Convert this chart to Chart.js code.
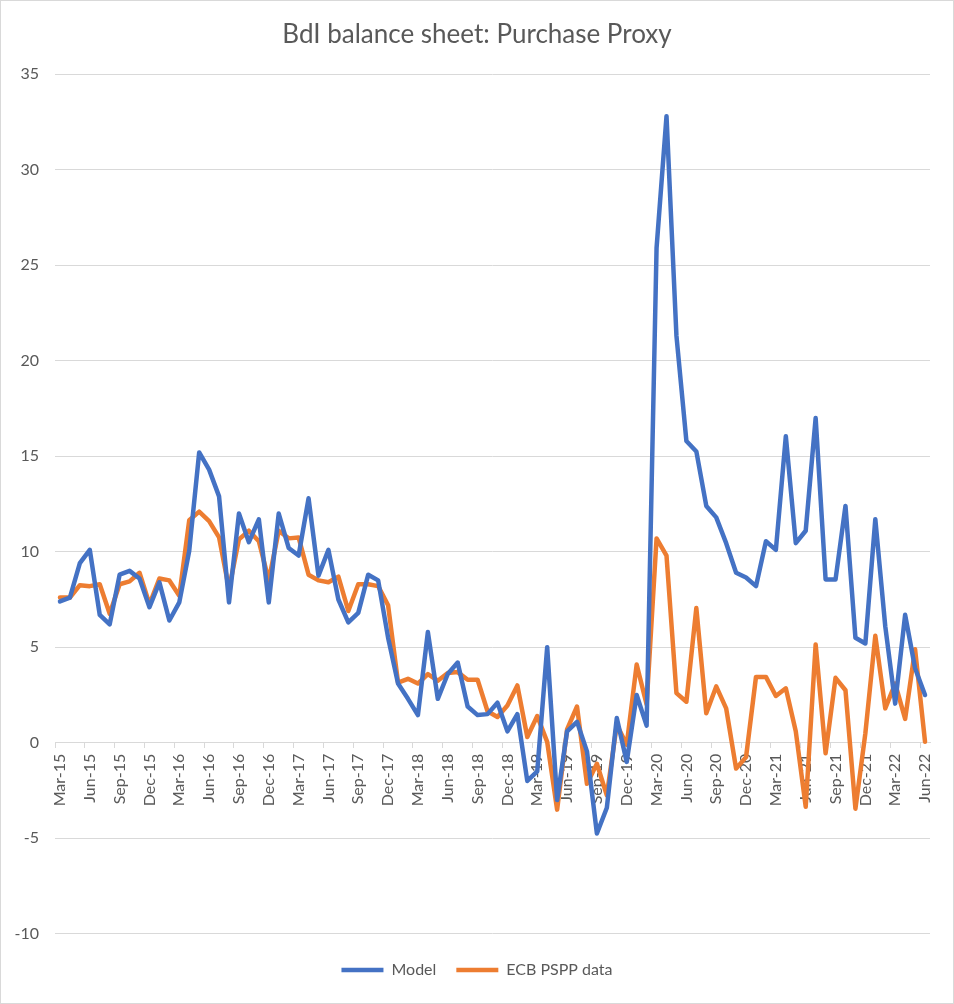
<!DOCTYPE html>
<html>
<head>
<meta charset="utf-8">
<title>BdI balance sheet: Purchase Proxy</title>
<script src="https://cdn.jsdelivr.net/npm/chart.js@4.4.1/dist/chart.umd.min.js"></script>
<style>
  html, body { margin: 0; padding: 0; background: #fff; }
  #wrap { width: 952px; height: 1002px; border: 1px solid #D9D9D9; }
</style>
</head>
<body>
<div id="wrap"><canvas id="proxyChart" width="952" height="1002"></canvas></div>
<script>
/* BdI balance sheet - purchase proxy vs ECB PSPP data (monthly, Mar-15 .. Jun-22) */

const monthNames = ["Jan", "Feb", "Mar", "Apr", "May", "Jun", "Jul", "Aug", "Sep", "Oct", "Nov", "Dec"];

const modelData = [
  7.4, 7.6, 9.4, 10.1, 6.7, 6.2, 8.8, 9.0, 8.6, 7.1,            // 2015
  8.4, 6.4, 7.35, 10.05, 15.2, 14.3, 12.9, 7.35, 12.0, 10.5, 11.7, 7.35,   // 2016
  12.0, 10.2, 9.8, 12.8, 8.75, 10.1, 7.5, 6.3, 6.8, 8.8, 8.5, 5.5,         // 2017
  3.1, 2.3, 1.45, 5.8, 2.3, 3.6, 4.2, 1.9, 1.45, 1.5, 2.1, 0.6,            // 2018
  1.5, -2.0, -1.5, 5.0, -3.0, 0.6, 1.1, -0.45, -4.75, -3.4, 1.3, -1.0,     // 2019
  2.5, 0.9, 25.9, 32.8, 21.3, 15.8, 15.25, 12.4, 11.8, 10.45, 8.9, 8.65,  // 2020
  8.2, 10.55, 10.1, 16.05, 10.45, 11.1, 17.0, 8.55, 8.55, 12.4, 5.5, 5.2, // 2021
  11.7, 6.1, 2.05, 6.7, 3.9, 2.5                                           // 2022
];

const psppData = [
  7.6, 7.6, 8.25, 8.2, 8.3, 6.75, 8.3, 8.45, 8.9, 7.25,
  8.6, 8.5, 7.7, 11.65, 12.1, 11.6, 10.75, 8.05, 10.65, 11.1, 10.55, 8.5,
  11.1, 10.7, 10.75, 8.8, 8.5, 8.4, 8.7, 6.9, 8.3, 8.3, 8.2, 7.2,
  3.15, 3.35, 3.1, 3.6, 3.25, 3.65, 3.7, 3.3, 3.3, 1.65, 1.35, 1.95,
  3.0, 0.3, 1.4, 0.05, -3.5, 0.7, 1.9, -2.15, -1.1, -2.75, 0.95, -0.1,
  4.1, 2.0, 10.7, 9.8, 2.6, 2.15, 7.05, 1.55, 2.95, 1.8, -1.35, -0.75,
  3.45, 3.45, 2.45, 2.85, 0.6, -3.35, 5.15, -0.55, 3.4, 2.75, -3.45, 0.5,
  5.6, 1.8, 3.1, 1.25, 4.9, 0.05
];

const yTickValues = [-10, -5, 0, 5, 10, 15, 20, 25, 30, 35];

// category labels "Mar-15" ... "Jun-22"
const months = [];
for (let k = 0; k < modelData.length; k++) {
    const m = (2 + k) % 12;
    const yr = 15 + Math.floor((2 + k) / 12);
    months.push(monthNames[m] + "-" + yr);
}

const textColor = "#595959";
const gridColor = "#D9D9D9";

Chart.defaults.font.family = "Lato, 'Open Sans', sans-serif";
Chart.defaults.color = textColor;

new Chart(document.getElementById("proxyChart"), {
    type: "line",
    data: {
        labels: months,
        datasets: [
            {
                label: "Model",
                data: modelData,
                borderColor: "#4472C4",
                backgroundColor: "#4472C4",
                borderWidth: 4.5,
                borderCapStyle: "round",
                borderJoinStyle: "round",
                pointRadius: 0,
                tension: 0
            },
            {
                label: "ECB PSPP data",
                data: psppData,
                borderColor: "#ED7D31",
                backgroundColor: "#ED7D31",
                borderWidth: 4.5,
                borderCapStyle: "round",
                borderJoinStyle: "round",
                pointRadius: 0,
                tension: 0
            }
        ]
    },
    options: {
        responsive: false,
        animation: false,
        layout: {
            padding: { top: 0, left: 0, right: 0, bottom: 15 }
        },
        scales: {
            x: {
                type: "category",
                position: { y: 0 },
                offset: true,
                grid: {
                    offset: true,
                    drawOnChartArea: false,
                    drawTicks: true,
                    tickLength: 5,
                    color: (c) => (c.index % 3 === 0 ? gridColor : "rgba(0,0,0,0)"),
                    tickColor: (c) => (c.index % 3 === 0 ? gridColor : "rgba(0,0,0,0)")
                },
                border: { display: true, color: gridColor, width: 1 },
                ticks: {
                    autoSkip: false,
                    maxRotation: 90,
                    minRotation: 90,
                    padding: 6,
                    font: { size: 16 },
                    color: textColor,
                    callback: function (val, idx) {
                        return idx % 3 === 0 ? months[idx] : "";
                    }
                }
            },
            y: {
                min: -10,
                max: 35,
                afterBuildTicks: (scale) => {
                    scale.ticks = yTickValues.map((v) => ({ value: v }));
                },
                afterFit: (scale) => {
                    scale.width = 54;
                },
                grid: {
                    color: gridColor,
                    lineWidth: 1,
                    drawTicks: false
                },
                border: { display: false },
                ticks: {
                    padding: 16,
                    font: { size: 16 },
                    color: textColor
                }
            },
            // empty right-hand axis, only reserves the margin right of the plot
            yRight: {
                position: "right",
                min: -10,
                max: 35,
                grid: { display: false },
                border: { display: false },
                ticks: { display: false },
                afterFit: (scale) => {
                    scale.width = 23;
                }
            }
        },
        plugins: {
            title: {
                display: true,
                text: "BdI balance sheet: Purchase Proxy",
                color: textColor,
                font: { size: 26, weight: "normal" },
                padding: { top: 18, bottom: 24 }
            },
            legend: {
                position: "bottom",
                // empty legend title only used as spacer above the items
                title: { display: true, text: "", font: { size: 1 }, padding: { top: 7, bottom: 0 } },
                labels: {
                    usePointStyle: true,
                    pointStyle: "line",
                    pointStyleWidth: 42,
                    padding: 20,
                    font: { size: 16 },
                    color: textColor
                }
            },
            tooltip: { enabled: false }
        }
    }
});
</script>
</body>
</html>
